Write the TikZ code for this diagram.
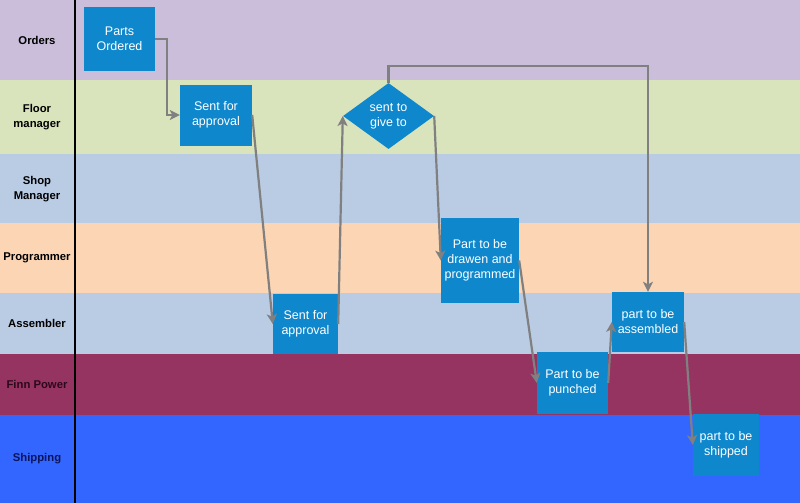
\documentclass[tikz,border=0pt]{standalone}
\usepackage{fontspec}
\setmainfont{Liberation Sans}
\usetikzlibrary{shapes.geometric,arrows.meta}
\definecolor{lOrders}{RGB}{203,190,219}
\definecolor{lFloor}{RGB}{217,228,188}
\definecolor{lShop}{RGB}{185,204,228}
\definecolor{lProg}{RGB}{252,214,180}
\definecolor{lFinn}{RGB}{150,52,97}
\definecolor{lShip}{RGB}{51,102,255}
\definecolor{boxblue}{RGB}{14,135,205}
\definecolor{arrgray}{RGB}{128,128,128}
\tikzset{
  proc/.style={rectangle, fill=boxblue, text=white, inner sep=0pt, align=center,
    font=\fontsize{12.5}{15}\selectfont},
  decis/.style={diamond, fill=boxblue, text=white, inner sep=0pt, align=center,
    font=\fontsize{12.5}{15}\selectfont},
  lanelbl/.style={align=center, font=\fontsize{11.3}{15.5}\selectfont\bfseries},
  flow/.style={draw=arrgray, line width=2.2pt, -{Stealth[length=10pt,width=10pt,inset=2.5pt]}}
}
\begin{document}
\begin{tikzpicture}[x=1pt,y=-1pt]
\useasboundingbox (0,0) rectangle (800,503);
% lanes
\fill[lOrders] (0,0) rectangle (800,80);
\fill[lFloor] (0,80) rectangle (800,154);
\fill[lShop] (0,154) rectangle (800,223);
\fill[lProg] (0,223) rectangle (800,293);
\fill[lShop] (0,293) rectangle (800,354);
\fill[lFinn] (0,354) rectangle (800,415);
\fill[lShip] (0,415) rectangle (800,503);
\draw[black, line width=1.3pt] (75,0) -- (75,503);
% lane labels
\node[lanelbl] (lo) at (37,40) {Orders};
\node[lanelbl] (lf) at (37,117) {Floor\\manager};
\node[lanelbl] (ls) at (37,189) {Shop\\Manager};
\node[lanelbl] (lp) at (37,258) {Programmer};
\node[lanelbl] (la) at (37,323) {Assembler};
\node[lanelbl, text={rgb,255:red,45;green,8;blue,28}] (lfp) at (37,384) {Finn Power};
\node[lanelbl, text={rgb,255:red,10;green,20;blue,90}] (lsh) at (37,459) {Shipping};
% nodes
\node[proc, minimum width=71pt, minimum height=64pt] (po) at (119.5,39) {Parts\\Ordered};
\node[proc, minimum width=72pt, minimum height=61pt] (sa1) at (216,115) {Sent for\\approval};
\node[decis, minimum width=91pt, minimum height=66pt, shape aspect=1.38] (dm) at (388.5,116) {sent to\\give to};
\node[proc, minimum width=65pt, minimum height=60pt] (sa2) at (305.5,324) {Sent for\\approval};
\node[proc, minimum width=78pt, minimum height=85pt] (pd) at (480,260.5) {Part to be\\drawen and\\programmed};
\node[proc, minimum width=71pt, minimum height=62pt] (pp) at (572.5,383) {Part to be\\punched};
\node[proc, minimum width=72pt, minimum height=60pt] (pa) at (648,322) {part to be\\assembled};
\node[proc, minimum width=66pt, minimum height=62pt] (ps) at (726,445) {part to be\\shipped};
% connectors
\draw[flow] (po.east) -- ++(12,0) |- (sa1.west);
\draw[flow] (sa1.east) -- (sa2.west);
\draw[flow] (sa2.east) -- (dm.west);
\draw[flow] (dm.east) -- (pd.west);
\draw[flow] (dm.north) -- ++(0,-17) -| (pa.north);
\draw[flow] (pd.east) -- (pp.west);
\draw[flow] (pp.east) -- (pa.west);
\draw[flow] (pa.east) -- (ps.west);
\end{tikzpicture}
\end{document}
